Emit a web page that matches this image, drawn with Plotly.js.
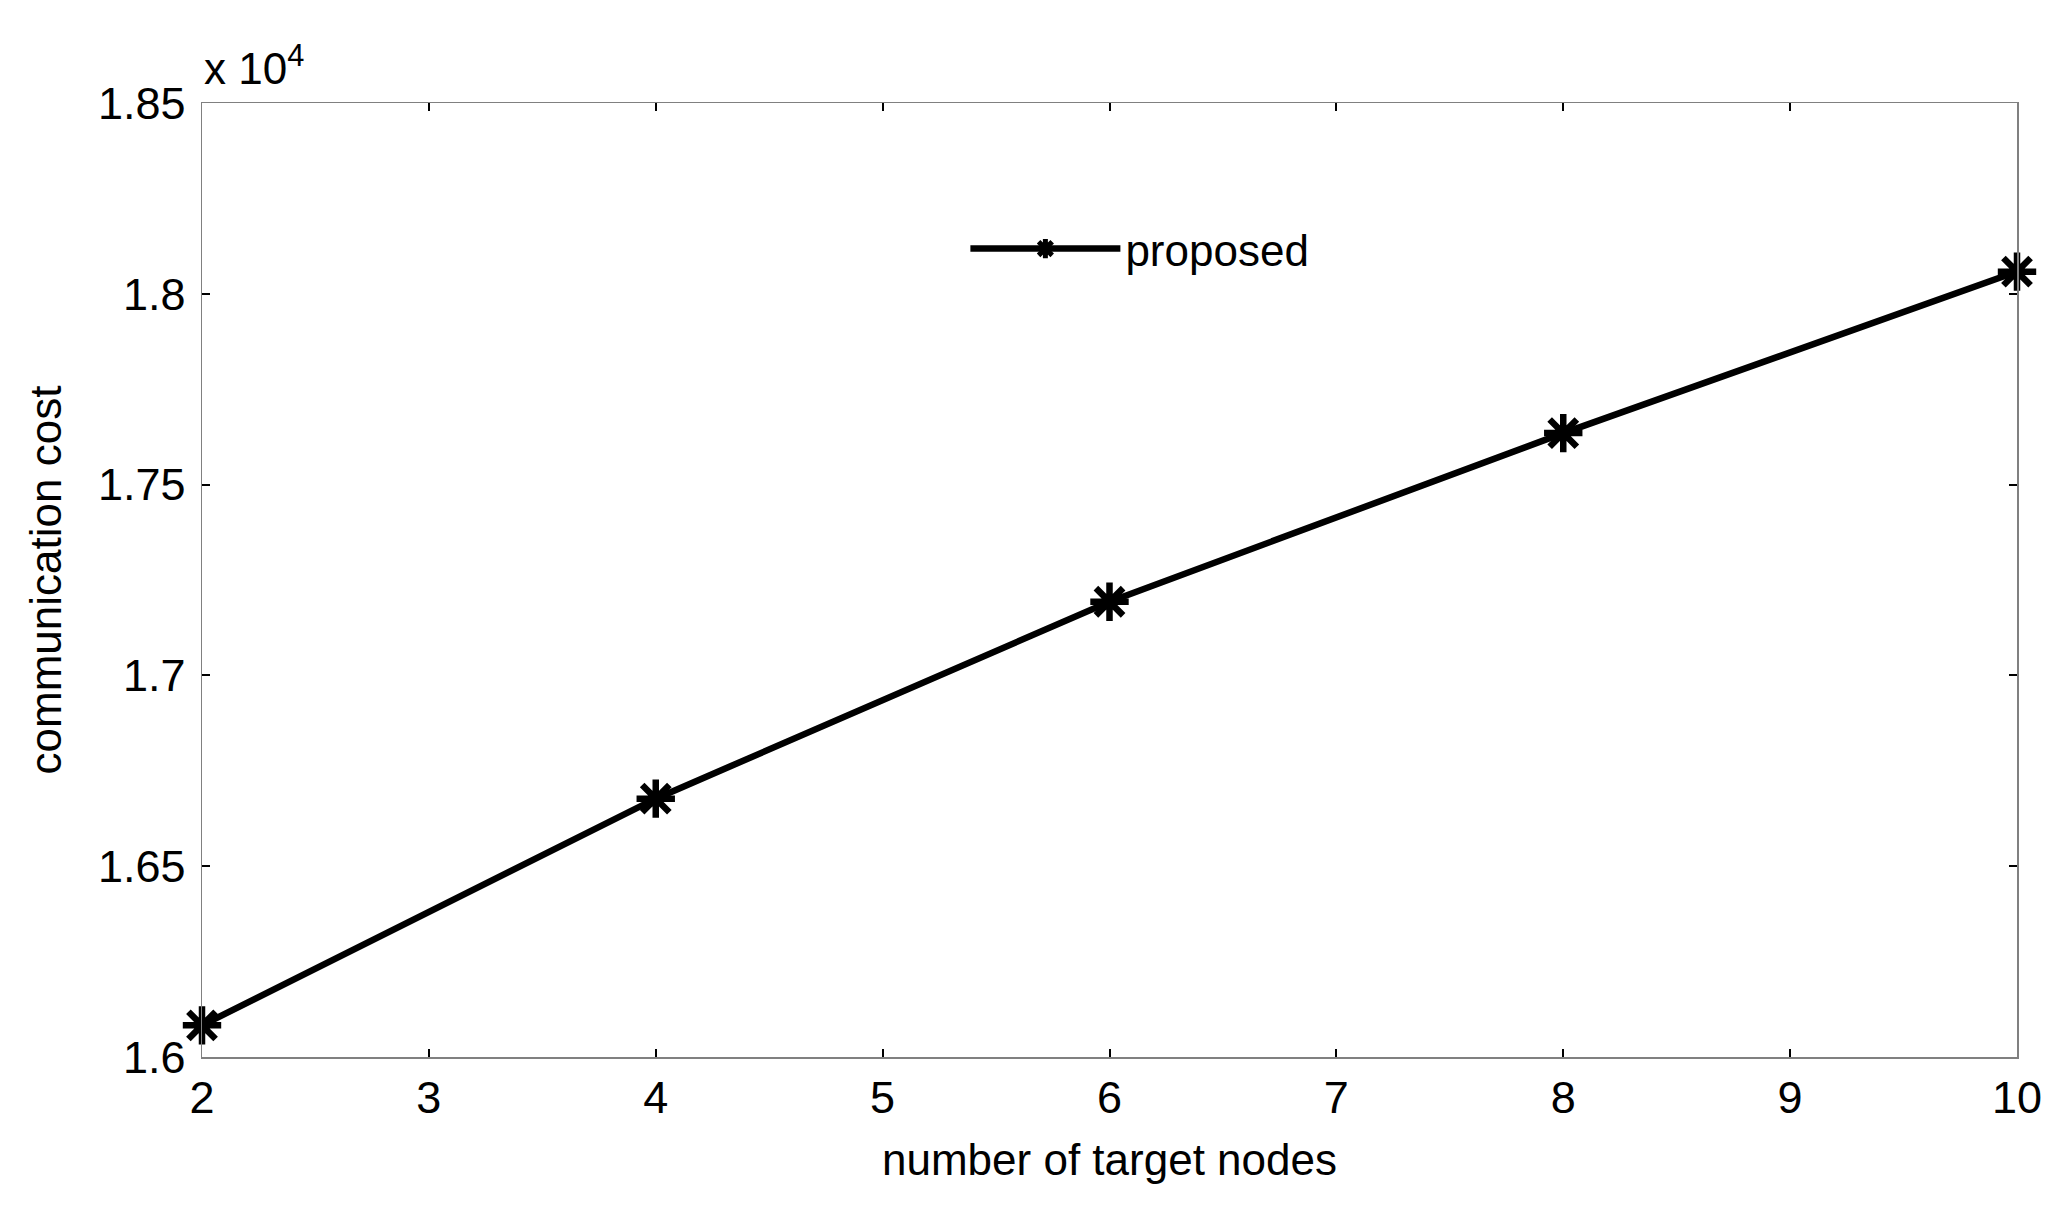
<!DOCTYPE html>
<html>
<head>
<meta charset="utf-8">
<script src="https://cdn.plot.ly/plotly-3.0.1.min.js"></script>
<style>html,body{margin:0;padding:0;background:#fff;}#chart{width:2068px;height:1212px;}</style>
</head>
<body>
<div id="chart"></div>
<script>
var targetNodes = [2, 4, 6, 8, 10];
var communicationCost = [16083, 16677, 17193, 17635, 18058];
var seriesName = 'proposed';
var xTickVals = [2, 3, 4, 5, 6, 7, 8, 9, 10];
var yTickVals = [16000, 16500, 17000, 17500, 18000, 18500];
var yTickText = ['1.6', '1.65', '1.7', '1.75', '1.8', '1.85'];
var xTitle = 'number of target nodes';
var yTitle = 'communication cost';
var exponentLabel = 'x 10<sup>4</sup>';

var fontFam = 'Liberation Sans, Arial, sans-serif';

var trace = {
  x: targetNodes,
  y: communicationCost,
  name: seriesName,
  type: 'scatter',
  mode: 'lines+markers',
  cliponaxis: false,
  line: {color: '#000', width: 6.5},
  marker: {symbol: 'asterisk-open', size: 32, color: '#000', line: {color: '#000', width: 6.5}},
  showlegend: true
};

var axisCommon = {
  showline: true,
  linecolor: '#808080',
  linewidth: 1.5,
  mirror: 'ticks',
  ticks: 'inside',
  ticklen: 8,
  tickwidth: 2,
  tickcolor: '#000',
  showgrid: false,
  zeroline: false,
  tickfont: {family: fontFam, size: 45, color: '#000'}
};

var layout = {
  width: 2068,
  height: 1212,
  paper_bgcolor: '#fff',
  plot_bgcolor: '#fff',
  margin: {l: 202, r: 51, t: 103, b: 155},
  font: {family: fontFam, color: '#000'},
  xaxis: Object.assign({}, axisCommon, {
    range: [2, 10],
    tickvals: xTickVals,
    ticktext: xTickVals.map(String),
    title: {text: xTitle, font: {family: fontFam, size: 44, color: '#000'}, standoff: 22}
  }),
  yaxis: Object.assign({}, axisCommon, {
    range: [16000, 18500],
    tickvals: yTickVals,
    ticktext: yTickText,
    ticklabelstandoff: 6,
    title: {text: yTitle, font: {family: fontFam, size: 44, color: '#000'}, standoff: 22}
  }),
  showlegend: true,
  legend: {
    x: 0.4206, y: 0.847, xanchor: 'left', yanchor: 'middle',
    bgcolor: 'rgba(0,0,0,0)', borderwidth: 0,
    itemwidth: 150,
    font: {family: fontFam, size: 44, color: '#000'}
  },
  annotations: [{
    text: exponentLabel,
    xref: 'paper', yref: 'paper',
    x: 0, y: 1, xanchor: 'left', yanchor: 'bottom',
    yshift: 8,
    showarrow: false,
    font: {family: fontFam, size: 44, color: '#000'}
  }]
};

Plotly.newPlot('chart', [trace], layout, {displayModeBar: false, staticPlot: true});
</script>
</body>
</html>
